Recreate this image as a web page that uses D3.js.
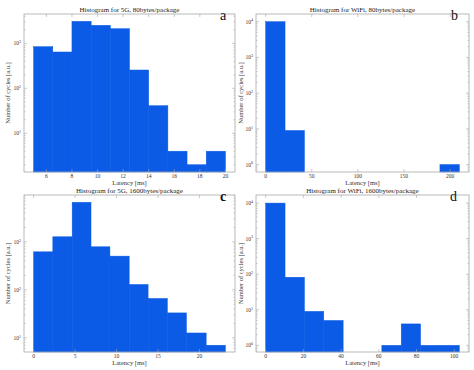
<!DOCTYPE html>
<html>
<head>
<meta charset="utf-8">
<script src="https://cdn.jsdelivr.net/npm/d3@7/dist/d3.min.js"></script>
<style>
  body { margin: 0; background: #fff; }
  text { font-family: "Liberation Serif", "DejaVu Serif", serif; }
</style>
</head>
<body>
<svg id="chart" width="474" height="370"></svg>
<script>
// bin edges and counts
const edgesA = [5, 6.5, 8, 9.5, 11, 12.5, 14, 15.5, 17, 18.5, 20]
const countsA = [840, 641, 3080, 2510, 2110, 255, 41, 4, 2, 4]
const edgesB = [0, 21, 42, 63, 84, 105, 126, 147, 168, 189, 210]
const countsB = [9990, 9, 0, 0, 0, 0, 0, 0, 0, 1]
const edgesC = [0, 2.32, 4.65, 6.92, 9.2, 11.52, 13.8, 16.12, 18.42, 20.8, 23.12]
const countsC = [618, 1272, 6650, 787, 503, 129, 66, 33, 12.6, 7]
const edgesD = [0, 10.27, 20.54, 30.81, 41.08, 51.35, 61.62, 71.89, 82.16, 92.43, 102.7]
const countsD = [9950, 82, 9, 5, 0, 0, 1, 4, 1, 1]

const xTicksA = [6, 8, 10, 12, 14, 16, 18, 20]
const xTicksB = [0, 50, 100, 150, 200]
const xTicksC = [0, 5, 10, 15, 20]
const xTicksD = [0, 20, 40, 60, 80, 100]
const yExpA = [1, 2, 3]
const yExpB = [0, 1, 2, 3, 4]
const yExpC = [1, 2, 3]
const yExpD = [0, 1, 2, 3, 4]

const titles = [
    "Histogram for 5G, 80bytes/package",
    "Histogram for WiFi, 80bytes/package",
    "Histogram for 5G, 1600bytes/package",
    "Histogram for WiFi, 1600bytes/package"
]
const letters = ["a", "b", "c", "d"]

const BAR = "#0b5be6"
const FRAME = "#a8a8a8"

const svg = d3.select("#chart")

const panels = [
    { edges: edgesA, counts: countsA, xTicks: xTicksA, yExp: yExpA, ydom: [1.38, 4480],
      box: { x: 24, y: 14, w: 211, h: 158 }, lx: 220, ly: 19.5, ylab: 9.5 },
    { edges: edgesB, counts: countsB, xTicks: xTicksB, yExp: yExpB, ydom: [0.62, 16400],
      box: { x: 256, y: 14, w: 213, h: 158 }, lx: 451, ly: 19.5, ylab: 242.5 },
    { edges: edgesC, counts: countsC, xTicks: xTicksC, yExp: yExpC, ydom: [5.06, 9440],
      box: { x: 24, y: 195, w: 211, h: 157 }, lx: 220, ly: 200.5, ylab: 9.5 },
    { edges: edgesD, counts: countsD, xTicks: xTicksD, yExp: yExpD, ydom: [0.65, 16800],
      box: { x: 256, y: 195, w: 213, h: 157 }, lx: 450, ly: 200.5, ylab: 242.5 }
]

panels.forEach((p, k) => drawPanel(p, k))

function drawPanel(p, k) {
    const b = p.box
    const lo = p.edges[0], hi = p.edges[p.edges.length - 1]
    const pad = (hi - lo) * 0.05

    const x = d3.scaleLinear().domain([lo - pad, hi + pad]).range([b.x, b.x + b.w])
    const y = d3.scaleLog().domain(p.ydom).range([b.y + b.h, b.y])

    const g = svg.append("g")

    // bars (stroke in the same colour hides the seams between bins)
    const bins = p.counts.map((c, i) => ({ x0: p.edges[i], x1: p.edges[i + 1], c: c }))
    g.selectAll("rect.bar")
        .data(bins.filter(d => d.c > 0))
        .enter()
        .append("rect")
        .attr("class", "bar")
        .attr("x", d => x(d.x0))
        .attr("width", d => x(d.x1) - x(d.x0))
        .attr("y", d => y(d.c))
        .attr("height", d => b.y + b.h - y(d.c))
        .attr("fill", BAR)
        .attr("stroke", BAR)
        .attr("stroke-width", 0.5)

    // frame
    g.append("rect")
        .attr("x", b.x).attr("y", b.y)
        .attr("width", b.w).attr("height", b.h)
        .attr("fill", "none")
        .attr("stroke", FRAME)
        .attr("stroke-width", 0.8)

    // x ticks, inward on bottom and top
    p.xTicks.forEach(t => {
        const xx = x(t)
        g.append("line").attr("x1", xx).attr("x2", xx)
            .attr("y1", b.y + b.h).attr("y2", b.y + b.h - 3)
            .attr("stroke", FRAME).attr("stroke-width", 0.6)
        g.append("line").attr("x1", xx).attr("x2", xx)
            .attr("y1", b.y).attr("y2", b.y + 3)
            .attr("stroke", FRAME).attr("stroke-width", 0.6)
        g.append("text")
            .attr("x", xx).attr("y", b.y + b.h + 6)
            .attr("text-anchor", "middle")
            .attr("font-size", 5.5)
            .attr("fill", "#333")
            .text(t)
    })

    // y ticks: majors with labels, minors at 2..9
    const [ymin, ymax] = p.ydom
    for (let e = Math.floor(Math.log10(ymin)); e <= Math.ceil(Math.log10(ymax)); e++) {
        for (let m = 1; m <= 9; m++) {
            const v = m * Math.pow(10, e)
            if (v < ymin || v > ymax) continue
            const yy = y(v)
            const len = m === 1 ? 3 : 1.5
            g.append("line").attr("x1", b.x).attr("x2", b.x + len)
                .attr("y1", yy).attr("y2", yy)
                .attr("stroke", FRAME).attr("stroke-width", 0.6)
            g.append("line").attr("x1", b.x + b.w).attr("x2", b.x + b.w - len)
                .attr("y1", yy).attr("y2", yy)
                .attr("stroke", FRAME).attr("stroke-width", 0.6)
        }
    }
    p.yExp.forEach(e => {
        const yy = y(Math.pow(10, e))
        const t = g.append("text")
            .attr("x", b.x - 3).attr("y", yy + 2)
            .attr("text-anchor", "end")
            .attr("font-size", 5.5)
            .attr("fill", "#333")
        t.append("tspan").text("10")
        t.append("tspan").attr("dy", -2.2).attr("font-size", 4).text(e)
    })

    // labels
    g.append("text")
        .attr("x", b.x + b.w / 2).attr("y", b.y + b.h + 12.5)
        .attr("text-anchor", "middle")
        .attr("font-size", 6.5)
        .attr("fill", "#333")
        .text("Latency [ms]")

    g.append("text")
        .attr("transform", `translate(${p.ylab},${b.y + b.h / 2}) rotate(-90)`)
        .attr("text-anchor", "middle")
        .attr("font-size", 6.5)
        .attr("fill", "#333")
        .text("Number of cycles [a.u.]")

    g.append("text")
        .attr("x", b.x + b.w / 2).attr("y", b.y - 2.5)
        .attr("text-anchor", "middle")
        .attr("font-size", 7)
        .attr("fill", "#222")
        .text(titles[k])

    g.append("text")
        .attr("x", p.lx).attr("y", p.ly)
        .attr("font-size", 14)
        .attr("fill", "#111")
        .attr("font-weight", k === 2 ? "bold" : "normal")
        .text(letters[k])
}
</script>
</body>
</html>
